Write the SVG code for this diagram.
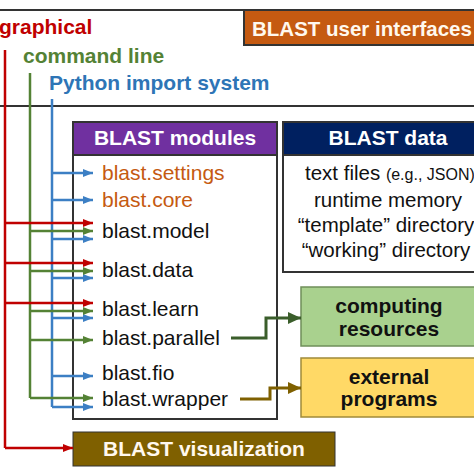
<svg xmlns="http://www.w3.org/2000/svg" width="474" height="474" viewBox="0 0 474 474">
<style>
  text { font-family: "Liberation Sans", Arial, sans-serif; }
  .b { font-weight: bold; }
  .hdr { font-weight: bold; font-size: 21px; fill: #ffffff; }
  .cream { fill: #FFF8EE; }
  .mod { font-size: 21px; fill: #111111; }
  .mod.or { fill: #C55A11; }
  .dat { font-size: 20.5px; fill: #111111; }
  .frame { stroke: #333333; stroke-width: 2; fill: none; }
  .r { stroke: #C00000; stroke-width: 2.5; fill: none; }
  .g { stroke: #548235; stroke-width: 2.5; fill: none; }
  .bl { stroke: #3C7FC4; stroke-width: 2.5; fill: none; }
</style>
<defs>
  <marker id="ar" markerUnits="userSpaceOnUse" markerWidth="10" markerHeight="8" refX="10" refY="4" orient="auto"><path d="M0,0 L10,4 L0,8 z" fill="#C00000"/></marker>
  <marker id="ag" markerUnits="userSpaceOnUse" markerWidth="10" markerHeight="8" refX="10" refY="4" orient="auto"><path d="M0,0 L10,4 L0,8 z" fill="#548235"/></marker>
  <marker id="ab" markerUnits="userSpaceOnUse" markerWidth="10" markerHeight="8" refX="10" refY="4" orient="auto"><path d="M0,0 L10,4 L0,8 z" fill="#3C7FC4"/></marker>
  <marker id="adg" markerUnits="userSpaceOnUse" markerWidth="13" markerHeight="12" refX="13" refY="6" orient="auto"><path d="M0,0 L13,6 L0,12 z" fill="#3B5E2B"/></marker>
  <marker id="abr" markerUnits="userSpaceOnUse" markerWidth="13" markerHeight="12" refX="13" refY="6" orient="auto"><path d="M0,0 L13,6 L0,12 z" fill="#7F6000"/></marker>
</defs>
<rect width="474" height="474" fill="#ffffff"/>

<g id="frame">
  <line class="frame" x1="0" y1="10" x2="474" y2="10"/>
  <line class="frame" x1="0" y1="106" x2="474" y2="106"/>
</g>

<g id="user-interfaces">
  <rect x="244" y="10" width="240" height="35" fill="#C55A11" stroke="#333333" stroke-width="2"/>
  <text class="hdr cream" x="252" y="36" style="font-size:20.5px">BLAST user interfaces</text>
</g>

<g id="graphical">
  <text class="b" x="-1" y="34" font-size="21" fill="#C00000">graphical</text>
</g>
<g id="command-line">
  <text class="b" x="23" y="63" font-size="21" fill="#548235">command line</text>
</g>
<g id="python-import">
  <text class="b" x="49" y="90" font-size="21" fill="#2E75B6">Python import system</text>
</g>

<g id="modules">
  <rect x="73" y="122" width="204" height="297" fill="#ffffff" stroke="#333333" stroke-width="2"/>
  <rect x="73" y="122" width="204" height="33" fill="#7030A0" stroke="#333333" stroke-width="2"/>
  <text class="hdr" x="175" y="145" text-anchor="middle">BLAST modules</text>
  <text class="mod or" x="102" y="180">blast.settings</text>
  <text class="mod or" x="102" y="207">blast.core</text>
  <text class="mod" x="102" y="238">blast.model</text>
  <text class="mod" x="102" y="277">blast.data</text>
  <text class="mod" x="102" y="316">blast.learn</text>
  <text class="mod" x="102" y="345">blast.parallel</text>
  <text class="mod" x="102" y="380">blast.fio</text>
  <text class="mod" x="102" y="406">blast.wrapper</text>
</g>

<g id="data">
  <rect x="283" y="122" width="200" height="150" fill="#ffffff" stroke="#333333" stroke-width="2"/>
  <rect x="283" y="122" width="200" height="33" fill="#002060" stroke="#333333" stroke-width="2"/>
  <text class="hdr" x="388" y="145" text-anchor="middle">BLAST data</text>
  <text class="dat" x="305" y="180">text files <tspan font-size="16">(e.g., JSON)</tspan></text>
  <text class="dat" x="388" y="207" text-anchor="middle">runtime memory</text>
  <text class="dat" x="386" y="232" text-anchor="middle">“template” directory</text>
  <text class="dat" x="386" y="257" text-anchor="middle">“working” directory</text>
</g>

<g id="computing">
  <rect x="301" y="287" width="182" height="59" fill="#A9D18E" stroke="#6F8F5A" stroke-width="1.5"/>
  <text class="b" x="389" y="313" font-size="21" text-anchor="middle" fill="#111111">computing</text>
  <text class="b" x="389" y="336" font-size="21" text-anchor="middle" fill="#111111">resources</text>
</g>

<g id="external">
  <rect x="301" y="358" width="182" height="59" fill="#FFD966" stroke="#A08A3A" stroke-width="1.5"/>
  <text class="b" x="389" y="384" font-size="21" text-anchor="middle" fill="#111111">external</text>
  <text class="b" x="389" y="406" font-size="21" text-anchor="middle" fill="#111111">programs</text>
</g>

<g id="visualization">
  <rect x="73" y="432" width="262" height="34" fill="#7F6000" stroke="#333333" stroke-width="1"/>
  <text class="hdr cream" x="204" y="456" text-anchor="middle">BLAST visualization</text>
</g>

<g id="connectors">
  <line class="r" x1="5" y1="50" x2="5" y2="448"/>
  <line class="g" x1="30" y1="73" x2="30" y2="398"/>
  <line class="bl" x1="52" y1="99" x2="52" y2="407"/>
  <line class="bl" x1="52" y1="173" x2="93" y2="173" marker-end="url(#ab)"/>
  <line class="bl" x1="52" y1="200" x2="93" y2="200" marker-end="url(#ab)"/>
  <line class="bl" x1="52" y1="239" x2="93" y2="239" marker-end="url(#ab)"/>
  <line class="bl" x1="52" y1="278" x2="93" y2="278" marker-end="url(#ab)"/>
  <line class="bl" x1="52" y1="318" x2="93" y2="318" marker-end="url(#ab)"/>
  <line class="bl" x1="52" y1="376" x2="93" y2="376" marker-end="url(#ab)"/>
  <line class="bl" x1="52" y1="407" x2="93" y2="407" marker-end="url(#ab)"/>
  <line class="g" x1="30" y1="231" x2="93" y2="231" marker-end="url(#ag)"/>
  <line class="g" x1="30" y1="271" x2="93" y2="271" marker-end="url(#ag)"/>
  <line class="g" x1="30" y1="311" x2="93" y2="311" marker-end="url(#ag)"/>
  <line class="g" x1="30" y1="340" x2="93" y2="340" marker-end="url(#ag)"/>
  <line class="g" x1="30" y1="398" x2="93" y2="398" marker-end="url(#ag)"/>
  <line class="r" x1="5" y1="223" x2="93" y2="223" marker-end="url(#ar)"/>
  <line class="r" x1="5" y1="263" x2="93" y2="263" marker-end="url(#ar)"/>
  <line class="r" x1="5" y1="303" x2="93" y2="303" marker-end="url(#ar)"/>
  <path class="r" d="M5,448 L73,448" marker-end="url(#ar)"/>
  <path d="M231,338 L266,338 L266,318 L301,318" fill="none" stroke="#3B5E2B" stroke-width="3" marker-end="url(#adg)"/>
  <path d="M240,399 L270,399 L270,388 L301,388" fill="none" stroke="#7F6000" stroke-width="3" marker-end="url(#abr)"/>
</g>
</svg>
